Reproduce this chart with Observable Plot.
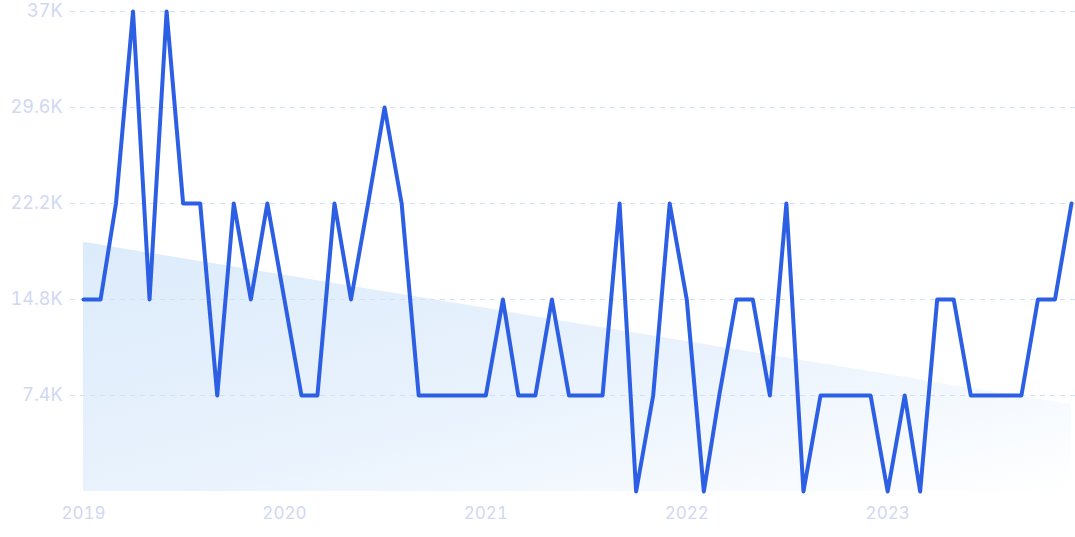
<!DOCTYPE html>
<html>
<head>
<meta charset="utf-8">
<script src="https://cdn.jsdelivr.net/npm/d3@7"></script>
<script src="https://cdn.jsdelivr.net/npm/@observablehq/plot@0.6"></script>
<style>
  html, body { margin: 0; padding: 0; background: #fff; }
  #chart { width: 1075px; height: 537px; }
</style>
</head>
<body>
<div id="chart"></div>
<script>
// Monthly values Jan 2019 – Dec 2023
const startYear = 2019;
const values = [
  14800, 14800, 22200, 37000, 14800, 37000, 22200, 22200, 7400, 22200, 14800, 22200,
  14800, 7400, 7400, 22200, 14800, 22200, 29600, 22200, 7400, 7400, 7400, 7400,
  7400, 14800, 7400, 7400, 14800, 7400, 7400, 7400, 22200, 0, 7400, 22200,
  14800, 0, 7400, 14800, 14800, 7400, 22200, 0, 7400, 7400, 7400, 7400,
  0, 7400, 0, 14800, 14800, 7400, 7400, 7400, 7400, 14800, 14800, 22200
];
const yTicks = [7400, 14800, 22200, 29600, 37000];
const yTickLabels = ["7.4K", "14.8K", "22.2K", "29.6K", "37K"];
const xTickYears = [2019, 2020, 2021, 2022, 2023];

const data = values.map((v, i) => ({ date: new Date(Date.UTC(startYear, i, 1)), value: v, i }));

// Linear regression trend (least squares) used for the shaded area
const n = data.length;
const mx = d3.mean(data, d => d.i), my = d3.mean(data, d => d.value);
const slope = d3.sum(data, d => (d.i - mx) * (d.value - my)) / d3.sum(data, d => (d.i - mx) ** 2);
const trend = data.map(d => ({ date: d.date, value: my + slope * (d.i - mx) }));

const plot = Plot.plot({
  width: 1075,
  height: 537,
  marginLeft: 83,
  marginRight: 4,
  marginTop: 11,
  marginBottom: 46,
  style: { fontFamily: "Inter, 'Noto Sans', sans-serif", background: "transparent", overflow: "visible" },
  x: { type: "utc", domain: [data[0].date, data[n - 1].date] },
  y: { domain: [0, 37000] },
  marks: [
    Plot.areaY(trend, { x: "date", y: "value", fill: "url(#trendGrad)" }),
    Plot.ruleY(yTicks, { stroke: "#cfe1f8", strokeWidth: 1, strokeDasharray: "5,5", insetLeft: -13, insetRight: -4 }),
    Plot.line(data, { x: "date", y: "value", stroke: "#2d5fe4", strokeWidth: 4, strokeLinejoin: "round", strokeLinecap: "round" }),
    Plot.axisY({ ticks: yTicks, tickFormat: (d) => yTickLabels[yTicks.indexOf(d)], tickSize: 0, tickPadding: 21, fontSize: 18, fill: "#d0d8f2", label: null }),
    Plot.axisX({ ticks: xTickYears.map(y => new Date(Date.UTC(y, 0, 1))), tickFormat: d3.utcFormat("%Y"), tickSize: 0, tickPadding: 15, fontSize: 17, fill: "#d0d8f2", label: null })
  ]
});

// Diagonal gradient for the trend area
const svg = d3.select(plot);
const defs = svg.insert("defs", ":first-child");
const grad = defs.append("linearGradient").attr("id", "trendGrad")
  .attr("x1", "0%").attr("y1", "0%").attr("x2", "100%").attr("y2", "100%");
grad.append("stop").attr("offset", "0%").attr("stop-color", "#dcebfb");
grad.append("stop").attr("offset", "55%").attr("stop-color", "#eaf3fd");
grad.append("stop").attr("offset", "100%").attr("stop-color", "#ffffff");

document.getElementById("chart").appendChild(plot);
</script>
</body>
</html>
